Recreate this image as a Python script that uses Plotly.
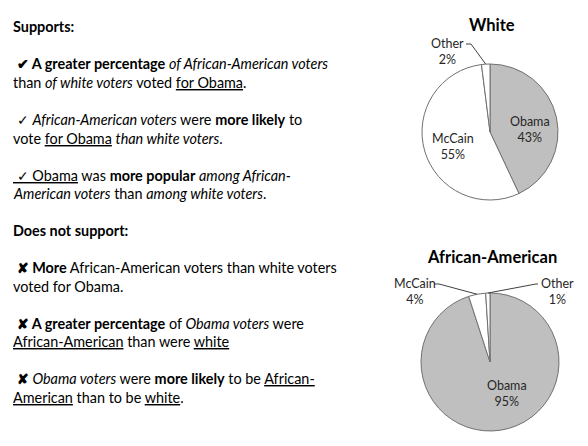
import math
import plotly.graph_objects as go

W, H = 588, 446

# ---- data ----
candidates = ["Obama", "McCain", "Other"]
white_pct = [43, 55, 2]
aa_pct = [95, 4, 1]
slice_colors = ["#bfbfbf", "#ffffff", "#ffffff"]

text_lines = [
    "<b>Supports:</b>",
    "",
    " <b>✔ A greater percentage</b> <i>of African-American voters</i>",
    "than <i>of white voters</i> voted <u>for Obama</u>.",
    "",
    " ✓ <i>African-American voters</i> were <b>more likely</b> to",
    "vote <u>for Obama</u> <i>than white voters</i>.",
    "",
    "<u> ✓ Obama</u> was <b>more popular</b> <i>among African-</i>",
    "<i>American voters</i> than <i>among white voters</i>.",
    "",
    "<b>Does not support:</b>",
    "",
    " <b>✘ More</b> African-American voters than white voters",
    "voted for Obama.",
    "",
    " <b>✘ A greater percentage</b> of <i>Obama voters</i> were",
    "<u>African-American</u> than were <u>white</u>",
    "",
    " <b>✘</b> <i>Obama voters</i> were <b>more likely</b> to be <u>African-</u>",
    "<u>American</u> than to be <u>white</u>.",
]

FONT = "Lato"


def px(x):
    return x / W


def py(y):
    return 1 - y / H


pies = [
    dict(title="White", vals=white_pct, cx=490, cy=132, r=68, title_y=25,
         labels={"Obama": (530, 129), "McCain": (453, 146), "Other": (447, 51)},
         outside=["Other"]),
    dict(title="African-American", vals=aa_pct, cx=490, cy=362, r=69, title_y=257,
         labels={"Obama": (507, 393), "McCain": (415, 291), "Other": (557, 291)},
         outside=["McCain", "Other"]),
]

fig = go.Figure()
annotations = []
shapes = []

for p in pies:
    cx, cy, r = p["cx"], p["cy"], p["r"]
    fig.add_trace(go.Pie(
        labels=candidates, values=p["vals"], sort=False, direction="clockwise",
        rotation=0, textinfo="none", hoverinfo="label+percent",
        marker=dict(colors=slice_colors, line=dict(color="#707070", width=1)),
        domain=dict(x=[px(cx - r), px(cx + r)], y=[py(cy + r), py(cy - r)]),
        showlegend=False,
    ))
    annotations.append(dict(
        x=px(cx + 2), y=py(p["title_y"]), xref="paper", yref="paper",
        text="<b>%s</b>" % p["title"], showarrow=False,
        font=dict(family=FONT, size=16.5, color="#000"),
        xanchor="center", yanchor="middle"))
    total = sum(p["vals"])
    cum = 0
    for name, v in zip(candidates, p["vals"]):
        mid = (cum + v / 2) / total
        cum += v
        lx, ly = p["labels"][name]
        annotations.append(dict(
            x=px(lx), y=py(ly), xref="paper", yref="paper",
            text="%s<br>%d%%" % (name, v), showarrow=False,
            font=dict(family=FONT, size=12.5, color="#262626"),
            xanchor="center", yanchor="middle"))
        if name in p["outside"]:
            ang = mid * 2 * math.pi
            ex = cx + r * math.sin(ang)
            ey = cy - r * math.cos(ang)
            sy = ly - 7
            if lx < ex:
                sx = lx + 19
                kx = sx + 5
            else:
                sx = lx - 19
                kx = sx - 2
            shapes.append(dict(
                type="path", xref="paper", yref="paper",
                path="M %f %f L %f %f L %f %f" % (px(sx), py(sy), px(kx), py(sy), px(ex), py(ey)),
                line=dict(color="#404040", width=1)))

y0, dy = 27, 18.5
for i, t in enumerate(text_lines):
    if not t:
        continue
    annotations.append(dict(
        x=px(11), y=py(y0 + i * dy), xref="paper", yref="paper",
        text=t, showarrow=False, align="left",
        font=dict(family=FONT, size=14.4, color="#000"),
        xanchor="left", yanchor="middle"))

fig.update_layout(
    width=W, height=H, margin=dict(l=0, r=0, t=0, b=0),
    paper_bgcolor="white", plot_bgcolor="white",
    annotations=annotations, shapes=shapes,
)

fig.write_html("out.html", config={"displayModeBar": False},
               post_script="document.body.style.margin='0';document.body.style.overflow='hidden';")
